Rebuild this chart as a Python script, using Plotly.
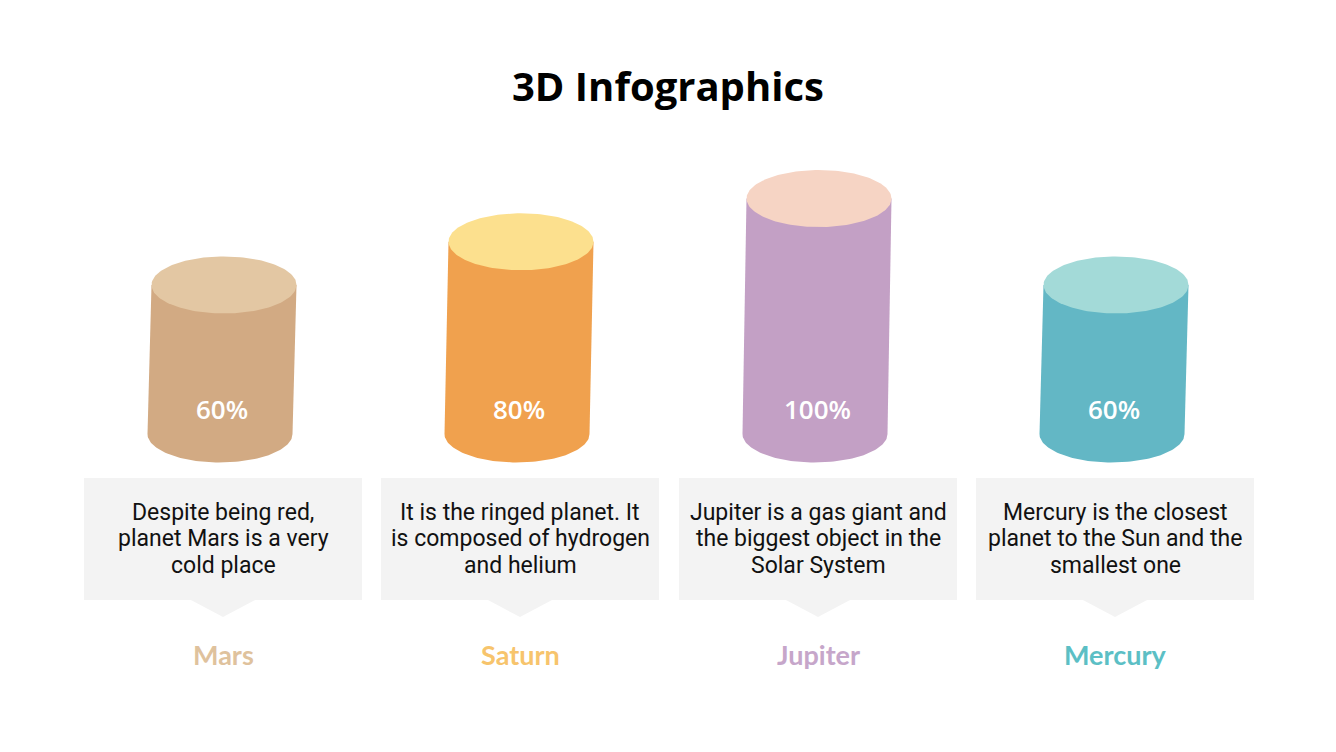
import numpy as np
import plotly.graph_objects as go

# ---- data ----
planets = ["Mars", "Saturn", "Jupiter", "Mercury"]
values = [60, 80, 100, 60]
value_labels = ["60%", "80%", "100%", "60%"]
descriptions = [
    ["Despite being red,", "planet Mars is a very", "cold place"],
    ["It is the ringed planet. It", "is composed of hydrogen", "and helium"],
    ["Jupiter is a gas giant and", "the biggest object in the", "Solar System"],
    ["Mercury is the closest", "planet to the Sun and the", "smallest one"],
]
body_colors = ["#D2AA83", "#F0A14E", "#C3A0C5", "#63B7C5"]
top_colors = ["#E3C7A3", "#FCE08E", "#F6D4C4", "#A3DAD8"]
name_colors = ["#DFC29D", "#F7C46C", "#C6A6CA", "#5CBFC5"]

# ---- layout constants (pixel based, reference coordinates) ----
OFF = 8                       # page body margin
W, H = 1336 - 2 * OFF, 752 - 2 * OFF
slot_x = [222, 519, 817, 1114]
BASE_PX = 434          # pixel row of the bottom ellipse centre
SCALE = 2.16           # pixels per percentage point
BASE = -9.0            # value at the cylinder base
RX = 72.5              # ellipse half width (px)
RY = 28.5 / SCALE      # ellipse half height (value units)
LEAN = 2.0             # px lean of the top to the right


def px(x):
    return x - OFF


def pp(py):
    return 1 - (py - OFF) / H


fig = go.Figure()
t_bot = np.linspace(0, -np.pi, 80)
t_full = np.linspace(0, 2 * np.pi, 160)

for i, v in enumerate(values):
    cb = px(slot_x[i] - LEAN)
    ct = px(slot_x[i] + LEAN)
    xs = [ct - RX, ct + RX, cb + RX] + list(cb + RX * np.cos(t_bot)) + [cb - RX, ct - RX]
    ys = [v, v, BASE] + list(BASE + RY * np.sin(t_bot)) + [BASE, v]
    fig.add_trace(go.Scatter(x=xs, y=ys, mode="lines", fill="toself",
                             fillcolor=body_colors[i], line=dict(width=0, color=body_colors[i]),
                             hoverinfo="skip", showlegend=False))
    fig.add_trace(go.Scatter(x=list(ct + RX * np.cos(t_full)), y=list(v + RY * np.sin(t_full)),
                             mode="lines", fill="toself", fillcolor=top_colors[i],
                             line=dict(width=0, color=top_colors[i]),
                             hoverinfo="skip", showlegend=False))

shapes = []
annotations = []
for i, name in enumerate(planets):
    c = px(slot_x[i] + 1)
    shapes.append(dict(type="rect", xref="x", yref="paper", x0=c - 139, x1=c + 139,
                       y0=pp(600), y1=pp(478), fillcolor="#F3F3F3", line=dict(width=0), layer="below"))
    shapes.append(dict(type="path", xref="x", yref="paper",
                       path=f"M {c-32},{pp(600)} L {c},{pp(617)} L {c+32},{pp(600)} Z",
                       fillcolor="#F3F3F3", line=dict(width=0), layer="below"))
    for j, line in enumerate(descriptions[i]):
        annotations.append(dict(x=c, y=pp(512 + 26.5 * j), xref="x", yref="paper", text=line,
                                showarrow=False, xanchor="center", yanchor="middle",
                                font=dict(family="Roboto", size=23, color="#111111")))
    annotations.append(dict(x=c, y=pp(654), xref="x", yref="paper", text=name,
                            showarrow=False, xanchor="center", yanchor="middle",
                            font=dict(family="Lato", size=27, color=name_colors[i], weight=700)))
    annotations.append(dict(x=px(slot_x[i]), y=pp(409), xref="x", yref="paper", text=value_labels[i],
                            showarrow=False, xanchor="center", yanchor="middle",
                            font=dict(family="Open Sans", size=26, color="#FFFFFF", weight=600)))

annotations.append(dict(x=px(668), y=pp(86), xref="x", yref="paper", text="3D Infographics",
                        showarrow=False, xanchor="center", yanchor="middle",
                        font=dict(family="Open Sans", size=40, color="#000000", weight=700)))

# value axis: bottom ellipse centre sits at BASE, SCALE px per point
y_lo = BASE - (H + OFF - BASE_PX) / SCALE
y_hi = BASE + (BASE_PX - OFF) / SCALE

fig.update_layout(
    width=W, height=H, margin=dict(l=0, r=0, t=0, b=0),
    paper_bgcolor="#FFFFFF", plot_bgcolor="#FFFFFF",
    xaxis=dict(range=[0, W], visible=False, fixedrange=True),
    yaxis=dict(range=[y_lo, y_hi], visible=False, fixedrange=True),
    shapes=shapes, annotations=annotations, showlegend=False,
)

fig.write_html("out.html")
